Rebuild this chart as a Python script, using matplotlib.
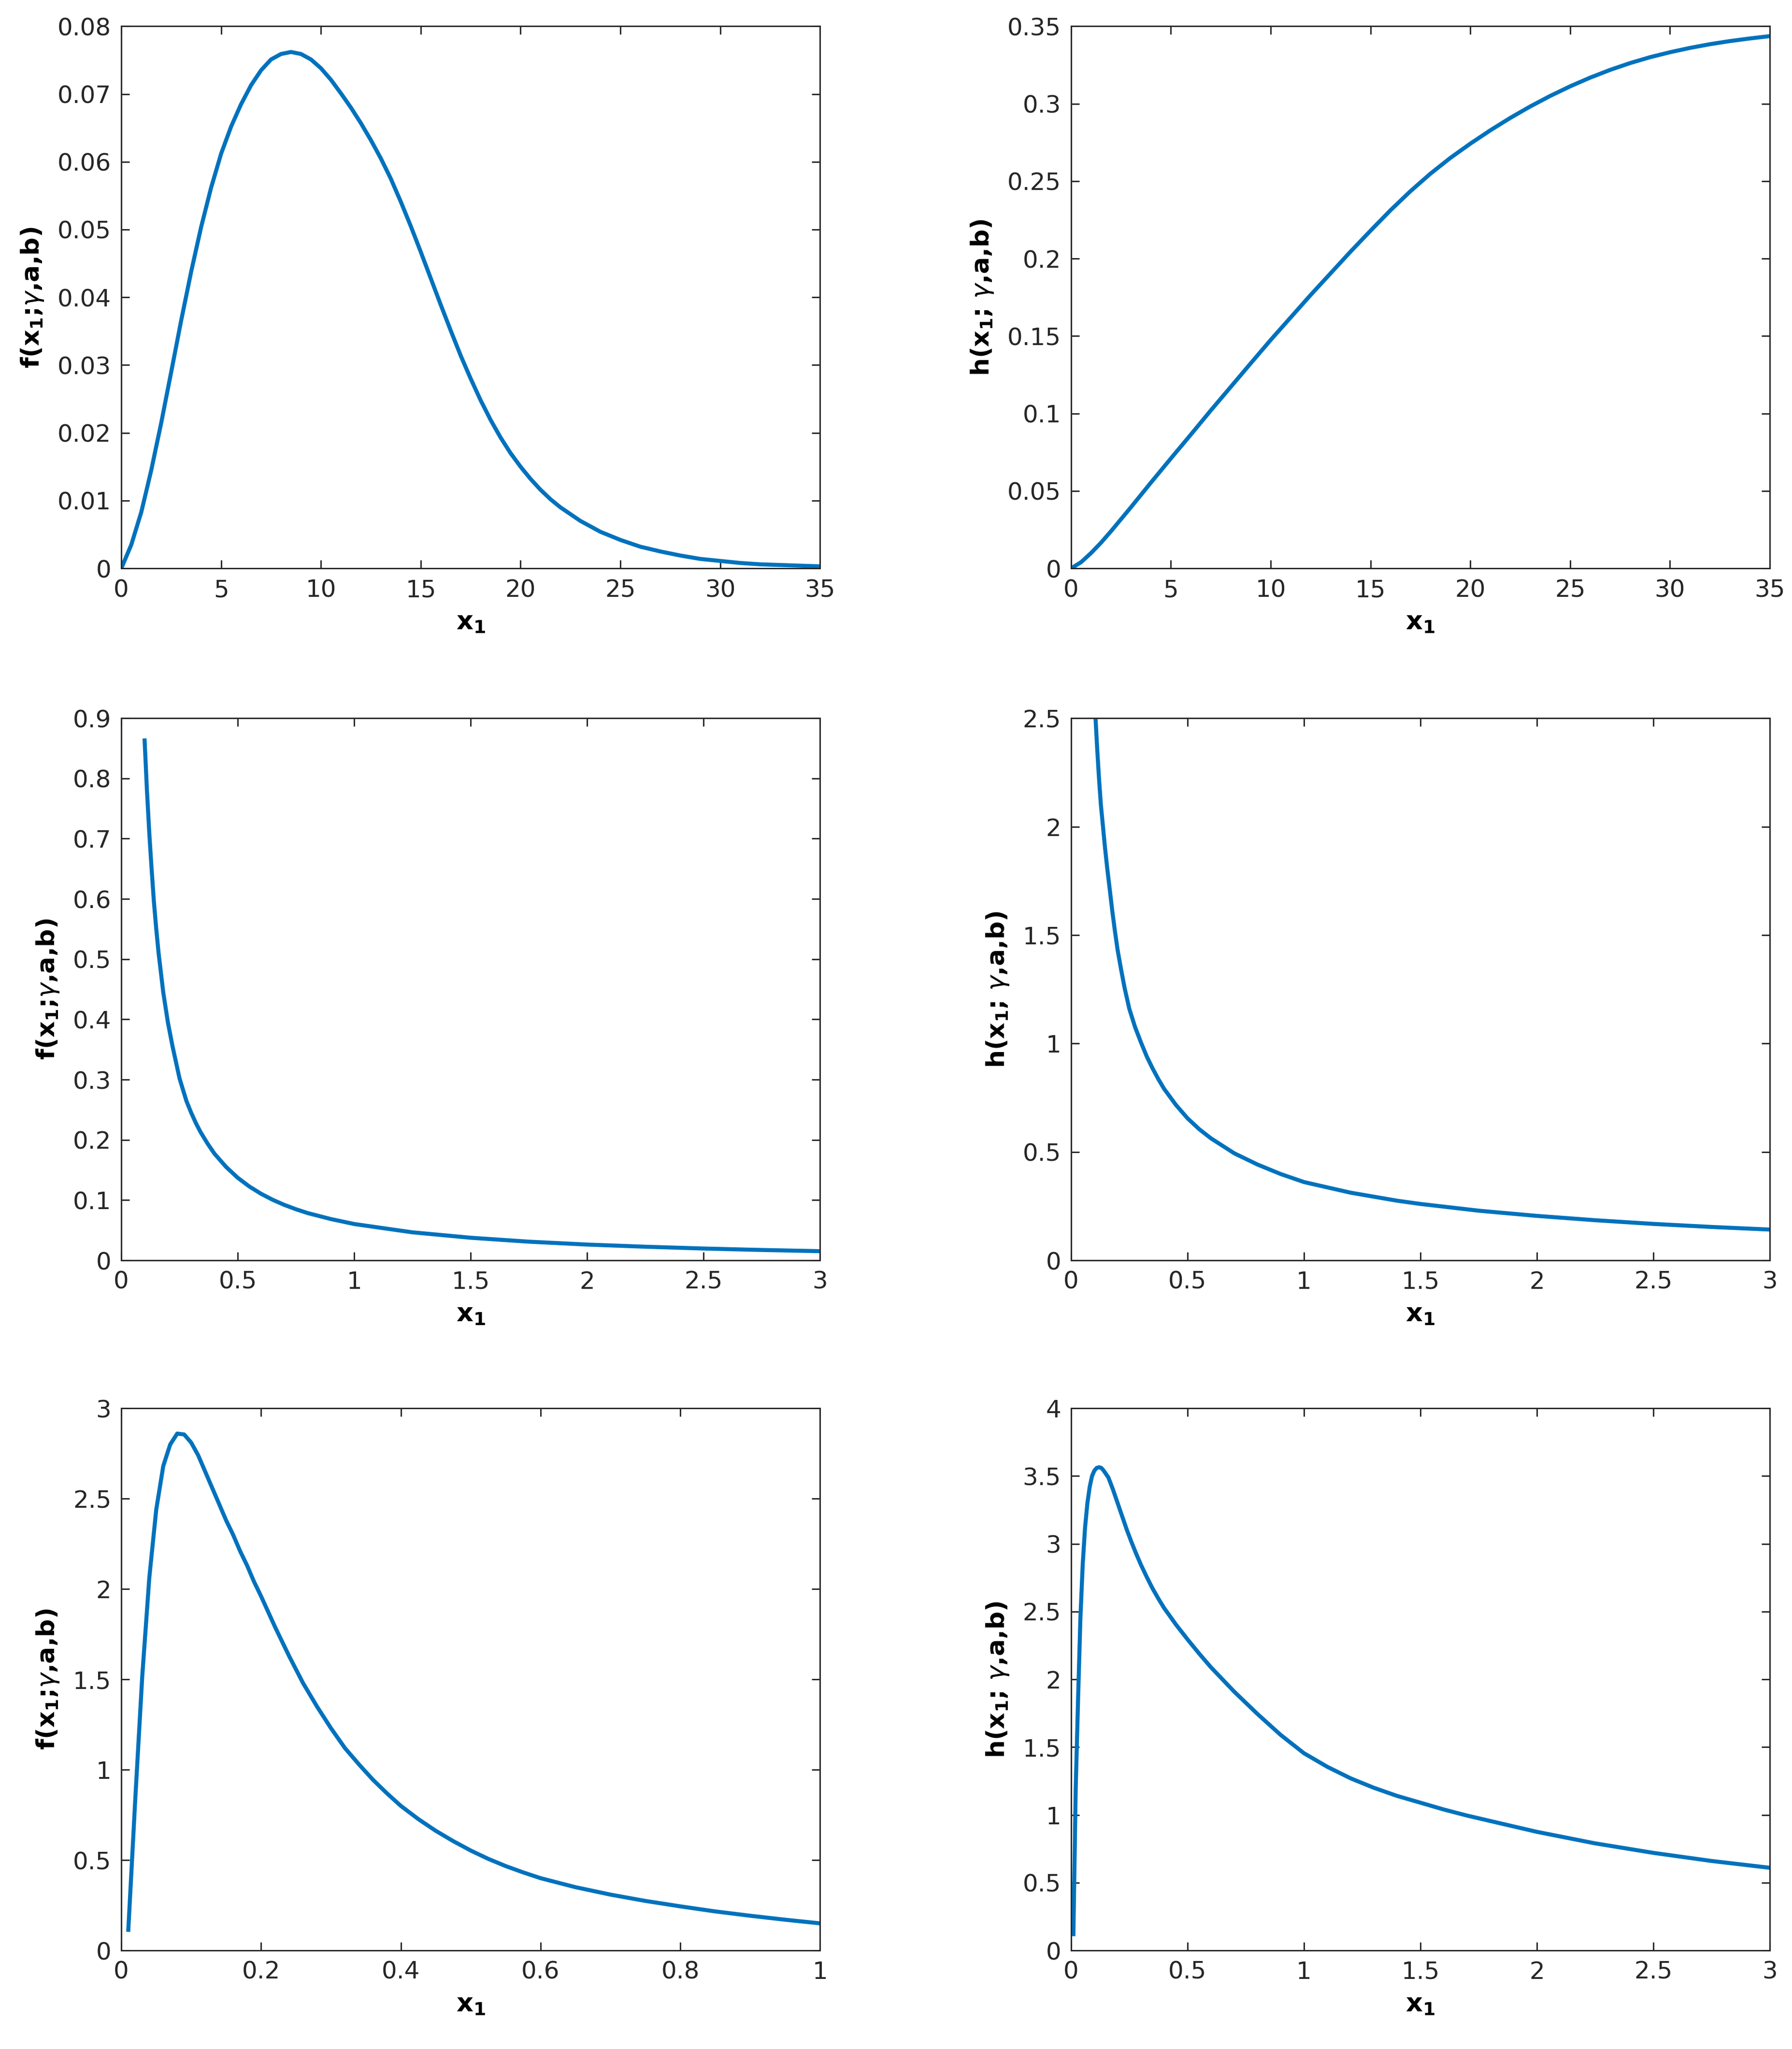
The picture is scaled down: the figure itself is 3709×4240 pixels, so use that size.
import matplotlib
matplotlib.use("Agg")
import matplotlib.pyplot as plt
from matplotlib.ticker import FuncFormatter

plt.rcParams['font.family'] = ['DejaVu Sans']
plt.rcParams['mathtext.fontset'] = 'dejavusans'

LINE = '#0072BD'
DARK = '#262626'

# panel (1,1): f, first parameter set
f1_x = [0, 0.5, 1, 1.5, 2, 2.5, 3, 3.5, 4, 4.5, 5, 5.5, 6, 6.5, 7, 7.5, 8, 8.5,
        9, 9.5, 10, 10.5, 11, 11.5, 12, 12.5, 13, 13.5, 14, 14.5, 15, 15.5, 16,
        16.5, 17, 17.5, 18, 18.5, 19, 19.5, 20, 20.5, 21, 21.5, 22, 23, 24, 25,
        26, 27, 28, 29, 30, 31, 32, 33, 34, 35]
f1_y = [0, 0.0035, 0.0083, 0.0145, 0.0215, 0.0290, 0.0366, 0.0438, 0.0504,
        0.0562, 0.0612, 0.0652, 0.0685, 0.0713, 0.0735, 0.0751, 0.0759, 0.0762,
        0.0759, 0.0751, 0.0738, 0.0721, 0.0701, 0.0680, 0.0657, 0.0632, 0.0605,
        0.0575, 0.0541, 0.0505, 0.0467, 0.0428, 0.0389, 0.0351, 0.0314, 0.0280,
        0.0248, 0.0219, 0.0193, 0.0170, 0.0150, 0.0132, 0.0116, 0.0102, 0.0090,
        0.0070, 0.0054, 0.0042, 0.0032, 0.0025, 0.0019, 0.0014, 0.0011, 0.0008,
        0.0006, 0.0005, 0.0004, 0.0003]

# panel (1,2): h, first parameter set
h1_x = [0, 0.5, 1, 1.5, 2, 3, 4, 5, 6, 7, 8, 9, 10, 11, 12, 13, 14, 15, 16,
        17, 18, 19, 20, 21, 22, 23, 24, 25, 26, 27, 28, 29, 30, 31, 32, 33, 34,
        35]
h1_y = [0, 0.0040, 0.0099, 0.0166, 0.0240, 0.0395, 0.0554, 0.0710, 0.0864,
        0.1020, 0.1172, 0.1324, 0.1475, 0.1620, 0.1765, 0.1905, 0.2045, 0.2180,
        0.2312, 0.2435, 0.2548, 0.2650, 0.2742, 0.2828, 0.2908, 0.2982, 0.3050,
        0.3112, 0.3168, 0.3218, 0.3262, 0.3300, 0.3332, 0.3360, 0.3384, 0.3404,
        0.3421, 0.3436]

# panel (2,1): f, second parameter set
f2_x = [0.1, 0.11, 0.12, 0.13, 0.14, 0.15, 0.16, 0.18, 0.2, 0.22, 0.25, 0.28,
        0.3, 0.32, 0.34, 0.37, 0.4, 0.45, 0.5, 0.55, 0.6, 0.65, 0.7, 0.75, 0.8,
        0.9, 1.0, 1.25, 1.5, 1.75, 2.0, 2.25, 2.5, 2.75, 3.0]
f2_y = [0.863, 0.78, 0.71, 0.65, 0.595, 0.55, 0.51, 0.445, 0.395, 0.355,
        0.302, 0.264, 0.245, 0.228, 0.213, 0.194, 0.177, 0.155, 0.137, 0.1225,
        0.1105, 0.1005, 0.092, 0.0848, 0.0785, 0.0685, 0.0603, 0.0465, 0.0375,
        0.031, 0.0262, 0.0226, 0.0196, 0.0172, 0.0152]

# panel (2,2): h, second parameter set
h2_x = [0.1, 0.105, 0.112, 0.12, 0.128, 0.137, 0.145, 0.155, 0.165, 0.177,
        0.188, 0.2, 0.215, 0.23, 0.25, 0.275, 0.3, 0.325, 0.35, 0.375, 0.4,
        0.45, 0.5, 0.55, 0.6, 0.7, 0.8, 0.9, 1.0, 1.2, 1.4, 1.5, 1.75, 2.0,
        2.25, 2.5, 2.75, 3.0]
h2_y = [2.62, 2.5, 2.36, 2.22, 2.10, 2.0, 1.91, 1.81, 1.72, 1.61, 1.52, 1.43,
        1.34, 1.255, 1.16, 1.075, 1.005, 0.94, 0.885, 0.835, 0.79, 0.717, 0.655,
        0.605, 0.563, 0.494, 0.442, 0.398, 0.361, 0.312, 0.275, 0.26, 0.229,
        0.205, 0.185, 0.168, 0.154, 0.142]

# panel (3,1): f, third parameter set
f3_x = [0.01, 0.02, 0.03, 0.04, 0.05, 0.06, 0.07, 0.08, 0.09, 0.1, 0.11, 0.12,
        0.13, 0.14, 0.15, 0.16, 0.17, 0.18, 0.19, 0.2, 0.22, 0.24, 0.26, 0.28,
        0.3, 0.32, 0.34, 0.36, 0.38, 0.4, 0.425, 0.45, 0.475, 0.5, 0.525, 0.55,
        0.575, 0.6, 0.65, 0.7, 0.75, 0.8, 0.85, 0.9, 0.95, 1.0]
f3_y = [0.114, 0.84, 1.52, 2.06, 2.44, 2.68, 2.80, 2.86, 2.855, 2.81, 2.74,
        2.65, 2.56, 2.47, 2.38, 2.30, 2.21, 2.13, 2.04, 1.96, 1.79, 1.63, 1.48,
        1.35, 1.23, 1.12, 1.03, 0.945, 0.87, 0.80, 0.727, 0.662, 0.605, 0.553,
        0.507, 0.467, 0.432, 0.40, 0.350, 0.309, 0.274, 0.244, 0.216, 0.192,
        0.17, 0.15]

# panel (3,2): h, third parameter set
h3_x = [0.01, 0.02, 0.03, 0.04, 0.05, 0.06, 0.07, 0.08, 0.09, 0.1, 0.11, 0.12,
        0.13, 0.14, 0.15, 0.16, 0.18, 0.2, 0.22, 0.24, 0.26, 0.28, 0.3, 0.325,
        0.35, 0.375, 0.4, 0.45, 0.5, 0.55, 0.6, 0.7, 0.8, 0.9, 1.0, 1.1, 1.2,
        1.3, 1.4, 1.5, 1.6, 1.7, 1.8, 1.9, 2.0, 2.25, 2.5, 2.75, 3.0]
h3_y = [0.12, 1.20, 1.85, 2.45, 2.85, 3.12, 3.30, 3.42, 3.50, 3.54, 3.56,
        3.565, 3.56, 3.54, 3.515, 3.49, 3.40, 3.30, 3.20, 3.10, 3.01, 2.925,
        2.845, 2.755, 2.67, 2.595, 2.525, 2.405, 2.295, 2.19, 2.09, 1.91, 1.745,
        1.59, 1.455, 1.355, 1.27, 1.20, 1.14, 1.09, 1.04, 0.995, 0.955, 0.915,
        0.875, 0.79, 0.72, 0.66, 0.61]

xticks_35 = [0, 5, 10, 15, 20, 25, 30, 35]
xticks_3 = [0, 0.5, 1, 1.5, 2, 2.5, 3]
xticks_1 = [0, 0.2, 0.4, 0.6, 0.8, 1]

f_label = r'f(x$_\mathbf{1}$;$\gamma$,a,b)'
h_label = r'h(x$_\mathbf{1}$; $\gamma$,a,b)'
x_label = r'x$_\mathbf{1}$'

fig = plt.figure(figsize=(3709 / 300, 4240 / 300), dpi=300)

lefts = [0.0677, 0.5977]
bottoms = [0.7226, 0.3849, 0.0481]
w, h = 0.3899, 0.2646

panels = [
    (f1_x, f1_y, xticks_35, (0, 35), [0, 0.01, 0.02, 0.03, 0.04, 0.05, 0.06, 0.07, 0.08], (0, 0.08), f_label),
    (h1_x, h1_y, xticks_35, (0, 35), [0, 0.05, 0.1, 0.15, 0.2, 0.25, 0.3, 0.35], (0, 0.35), h_label),
    (f2_x, f2_y, xticks_3, (0, 3), [0, 0.1, 0.2, 0.3, 0.4, 0.5, 0.6, 0.7, 0.8, 0.9], (0, 0.9), f_label),
    (h2_x, h2_y, xticks_3, (0, 3), [0, 0.5, 1, 1.5, 2, 2.5], (0, 2.5), h_label),
    (f3_x, f3_y, xticks_1, (0, 1), [0, 0.5, 1, 1.5, 2, 2.5, 3], (0, 3), f_label),
    (h3_x, h3_y, xticks_3, (0, 3), [0, 0.5, 1, 1.5, 2, 2.5, 3, 3.5, 4], (0, 4), h_label),
]

fmt = FuncFormatter(lambda v, p: '%g' % round(v, 6))

for i, (xs, ys, xt, xl, yt, yl, ylab) in enumerate(panels):
    row, col = divmod(i, 2)
    ax = fig.add_axes([lefts[col], bottoms[row], w, h])
    ax.plot(xs, ys, color=LINE, lw=2.0)
    ax.set_xlim(*xl)
    ax.set_ylim(*yl)
    ax.set_xticks(xt)
    ax.set_yticks(yt)
    ax.xaxis.set_major_formatter(fmt)
    ax.yaxis.set_major_formatter(fmt)
    ax.tick_params(direction='in', top=True, right=True, length=4, width=0.7,
                   labelsize=12, colors=DARK, pad=5)
    for s in ax.spines.values():
        s.set_linewidth(0.7)
        s.set_color(DARK)
    ax.set_xlabel(x_label, fontsize=13, fontweight='bold', color='black', labelpad=4)
    ax.set_ylabel(ylab, fontsize=12.5, fontweight='bold', color='black', labelpad=6)

fig.savefig('out.png', dpi=300)
